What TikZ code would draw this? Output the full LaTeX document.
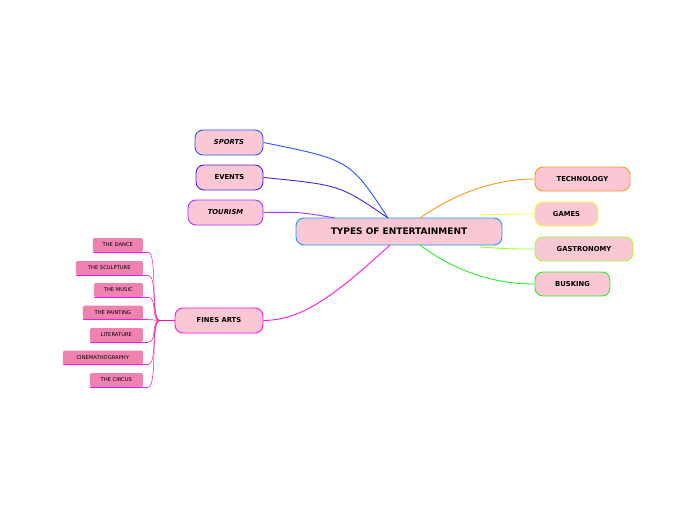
\documentclass[tikz,border=0pt]{standalone}
\usepackage{fontspec}
\setmainfont{DejaVu Sans}
\begin{document}
\begin{tikzpicture}[x=1pt,y=-1pt,
 box/.style={draw,fill=pinkfill,rounded corners=8pt,line width=0.9pt,inner sep=0pt,minimum height=25pt,font=\fontsize{6.8}{8}\selectfont\bfseries},
 leaf/.style={fill=leaffill,rounded corners=1.5pt,inner sep=0pt,minimum height=14pt,anchor=east,font=\fontsize{5.2}{6}\selectfont},
 conn/.style={line width=0.9pt},
 lc/.style={magenta!90!white,line width=0.5pt}]
\definecolor{pinkfill}{RGB}{250,200,212}
\definecolor{leaffill}{RGB}{240,130,175}
\definecolor{cblue}{RGB}{30,90,255}
\definecolor{cevent}{RGB}{80,30,230}
\definecolor{ctour}{RGB}{170,50,255}
\definecolor{cmag}{RGB}{255,20,230}
\definecolor{corange}{RGB}{255,150,20}
\definecolor{cyel}{RGB}{250,250,40}
\definecolor{cyg}{RGB}{160,250,40}
\definecolor{cgreen}{RGB}{40,240,40}
\useasboundingbox (0,0) rectangle (697,520);
\node[box,draw=cblue!60!cyan,minimum width=206pt,minimum height=27pt,font=\fontsize{9}{11}\selectfont\bfseries] (c) at (399,231.5) {TYPES OF ENTERTAINMENT};
\node[box,draw=cblue,minimum width=68pt] (sp) at (229,142.5) {\itshape SPORTS};
\node[box,draw=cevent,minimum width=67pt] (ev) at (229.5,177.5) {EVENTS};
\node[box,draw=ctour,minimum width=75pt] (to) at (225.5,212.5) {\itshape TOURISM};
\node[box,draw=cmag,minimum width=88pt] (fa) at (219,320.5) {FINES ARTS};
\node[box,draw=corange,minimum width=95pt,minimum height=24pt] (te) at (582.5,179) {TECHNOLOGY};
\node[box,draw=cyel,minimum width=63pt,minimum height=24pt] (ga) at (566.5,214) {GAMES};
\node[box,draw=cyg,minimum width=98pt,minimum height=24pt] (gs) at (584,249) {GASTRONOMY};
\node[box,draw=cgreen,minimum width=75pt,minimum height=24pt] (bu) at (572.5,284) {BUSKING};
\coordinate (c1) at (388,218);
\coordinate (c2) at (420,218);
\coordinate (c3) at (480,215);
\coordinate (c4) at (480,247);
\coordinate (c5) at (420,245);
\coordinate (c6) at (390,245);
\draw[conn,cblue] (c1) .. controls (350,160) .. (sp.east);
\draw[conn,cevent] (c1) .. controls (340,185) .. (ev.east);
\draw[conn,ctour] (335,218) .. controls (300,212) .. (to.east);
\draw[conn,cmag] (c6) .. controls (330,300) and (300,320) .. (fa.east);
\draw[conn,corange] (c2) .. controls (460,190) and (500,179) .. (te.west);
\draw[conn,cyel] (c3) .. controls (510,214) .. (ga.west);
\draw[conn,cyg] (c4) .. controls (510,249) .. (gs.west);
\draw[conn,cgreen] (c5) .. controls (460,275) and (500,284) .. (bu.west);
\coordinate (fj) at (160,320.5);
\draw[lc,line width=0.8pt] (fj) -- (fa.west);
\foreach \n/\t/\y/\w in {l1/THE DANCE/245/50,l2/THE SCULPTURE/268/67,l3/THE MUSIC/290/49,l4/THE PAINTING/312.5/60,l5/LITERATURE/335/53,l6/CINEMATHOGRAPHY/357.5/80,l7/THE CIRCUS/380/53}{
 \node[leaf,minimum width=\w pt] (\n) at (143,\y) {\t};
 \coordinate (\n e) at ([xshift=5pt]\n.south east);
 \draw[cmag,line width=1pt] (\n.south west) -- (\n e);
 \draw[lc] (\n e) .. controls (158,\y+7) and (150,320.5) .. (fj);
}
\end{tikzpicture}
\end{document}
